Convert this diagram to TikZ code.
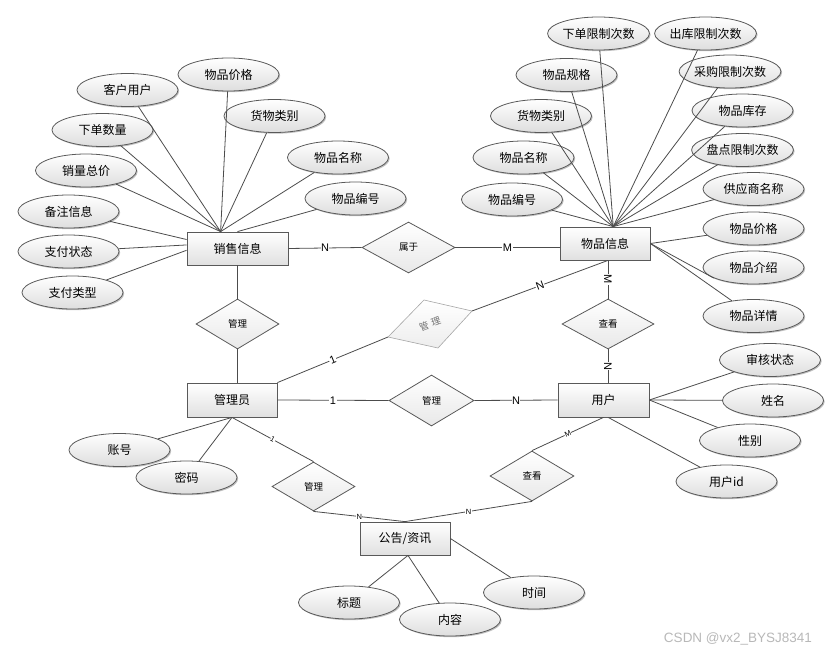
\documentclass[tikz,border=0pt]{standalone}
\usepackage{fontspec}
\setmainfont{Noto Sans CJK SC}
\setsansfont{Liberation Sans}
\usetikzlibrary{shapes.geometric}
\usetikzlibrary{shadows}

\begin{document}
\begin{tikzpicture}[x=1pt,y=-1pt,line width=0.8pt,
	box shadow/.style={drop shadow={shadow xshift=1.2pt,shadow yshift=-1.2pt,fill=black,opacity=0.25}},
	entity node/.style={rectangle,draw=black!65,top color=white,bottom color=black!12,
		minimum width=90pt,minimum height=33pt,inner sep=0pt,font=\fontsize{12}{14}\selectfont,box shadow},
	attr node/.style={ellipse,draw=black!65,top color=white,bottom color=black!13,
		minimum width=101pt,minimum height=33pt,inner sep=0pt,font=\fontsize{12}{14}\selectfont,box shadow},
	rel node/.style={diamond,draw=black!65,top color=white,bottom color=black!9,
		inner sep=0pt,font=\fontsize{9.5}{11}\selectfont},
	card/.style={font=\sffamily\fontsize{11}{12}\selectfont,fill=white,inner sep=0.5pt},
	small card/.style={font=\sffamily\fontsize{7.5}{8}\selectfont,fill=white,inner sep=0.3pt},
	link/.style={draw=black!70}]
	\useasboundingbox (0,0) rectangle (835,655);
	
	% entities
	\node[entity node,minimum width=101pt] (sale) at (237.5,248.5) {销售信息};
	\node[entity node] (goods) at (605,243.5) {物品信息};
	\node[entity node,minimum height=34pt] (admin) at (232,400) {管理员};
	\node[entity node,minimum width=91pt,minimum height=34pt] (user) at (603.5,400) {用户};
	\node[entity node] (notice) at (405,538.5) {公告/资讯};
	
	% relations
	\node[rel node,minimum width=93pt,minimum height=51pt] (belong) at (408.5,247.5) {属于};
	\node[rel node,minimum width=83pt,minimum height=50pt] (manageA) at (237.5,324) {管理};
	\node[rel node,minimum width=85pt,minimum height=51pt] (manageC) at (431.5,400.5) {管理};
	\node[rel node,minimum width=92pt,minimum height=50pt] (viewA) at (608,324) {查看};
	\node[rel node,minimum width=83pt,minimum height=49pt] (manageD) at (313.5,486.5) {管理};
	\node[rel node,minimum width=84pt,minimum height=50pt] (viewB) at (532,476) {查看};
	
	% the slanted grey one
	\coordinate (gl) at (388,337);
	\coordinate (gt) at (424,300);
	\coordinate (gr) at (472,311);
	\coordinate (gb) at (438,348);
	\path[draw=black!35,top color=white,bottom color=black!7,line width=0.6pt] (gl) -- (gt) -- (gr) -- (gb) -- cycle;
	\node[rotate=20,text=black!55,font=\fontsize{9.5}{11}\selectfont] (manageB) at (430,324) {管\hspace{3pt}理};
	
	% attributes of sale
	\node[attr node] (sa1) at (127.5,90) {客户用户};
	\node[attr node] (sa2) at (228.5,74.5) {物品价格};
	\node[attr node] (sa3) at (274.5,116) {货物类别};
	\node[attr node] (sa4) at (102.5,130) {下单数量};
	\node[attr node] (sa5) at (338,157.5) {物品名称};
	\node[attr node] (sa6) at (86,170.5) {销量总价};
	\node[attr node] (sa7) at (355.5,198.5) {物品编号};
	\node[attr node] (sa8) at (68.5,211.5) {备注信息};
	\node[attr node] (sa9) at (68.5,251.5) {支付状态};
	\node[attr node] (sa10) at (72.5,292.5) {支付类型};
	
	% attributes of goods
	\node[attr node] (ga1) at (598.5,33.5) {下单限制次数};
	\node[attr node] (ga2) at (705.5,33.5) {出库限制次数};
	\node[attr node] (ga3) at (566.5,75) {物品规格};
	\node[attr node] (ga4) at (730,71.5) {采购限制次数};
	\node[attr node] (ga5) at (541,116) {货物类别};
	\node[attr node] (ga6) at (742.5,110.5) {物品库存};
	\node[attr node] (ga7) at (523.5,157.5) {物品名称};
	\node[attr node] (ga8) at (742.5,150) {盘点限制次数};
	\node[attr node] (ga9) at (512,199.5) {物品编号};
	\node[attr node] (ga10) at (753.5,189) {供应商名称};
	\node[attr node] (ga11) at (753.5,228.5) {物品价格};
	\node[attr node] (ga12) at (753.5,267.5) {物品介绍};
	\node[attr node] (ga13) at (753.5,316) {物品详情};
	
	% attributes of user, admin, notice
	\node[attr node] (ua1) at (770,360) {审核状态};
	\node[attr node] (ua2) at (773,400.5) {姓名};
	\node[attr node] (ua3) at (750,440.5) {性别};
	\node[attr node] (ua4) at (726.5,481.5) {用户id};
	\node[attr node] (aa1) at (119.5,450) {账号};
	\node[attr node] (aa2) at (186.5,477.5) {密码};
	\node[attr node] (na1) at (349,602.5) {标题};
	\node[attr node] (na2) at (450,619.5) {内容};
	\node[attr node] (na3) at (534,592.5) {时间};
	
	% attribute links
	\path[link]
	(sa1) edge (sale.135) (sa2) edge (sale.135) (sa3) edge (sale.135)
	(sa4) edge (sale.135) (sa5) edge (sale.135) (sa6) edge (sale.135)
	(sa7) edge (sale.north) (sa8) edge (sale.170) (sa9) edge (sale.176)
	(sa10) edge (sale.182)
	(ga1) edge (goods.64) (ga2) edge (goods.64) (ga3) edge (goods.64)
	(ga4) edge (goods.64) (ga5) edge (goods.64) (ga6) edge (goods.64)
	(ga7) edge (goods.64) (ga8) edge (goods.64) (ga9) edge (goods.64)
	(ga10) edge (goods.64)
	(ga11) edge (goods.east) (ga12.195) edge (goods.east) (ga13) edge (goods.east)
	(ua1) edge (user.east) (ua2) edge (user.east) (ua3) edge (user.east)
	(ua4) edge (user.285)
	(aa1) edge (admin.south) (aa2) edge (admin.south)
	(na1) edge (notice.-80) (na2) edge (notice.-80) (na3) edge (notice.east);
	
	% relation links
	\path[link]
	(sale.east) edge node[card] {N} (belong.west)
	(belong.east) edge node[card] {M} (belong.east -| goods.west)
	(sale) edge (manageA)
	(manageA.south) edge (manageA.south |- admin.north)
	(admin.north east) edge node[card,sloped] {1} (gl)
	(gr) edge node[card,sloped] {N} (viewA.north |- goods.south)
	(viewA.north |- goods.south) edge node[card,sloped] {M} (viewA.north)
	(viewA.south) edge node[card,sloped] {N} (viewA.south |- user.north)
	(admin.east) edge node[card] {1} (manageC.west)
	(manageC.east) edge node[card] {N} (user.west)
	(admin.south) edge node[small card,sloped] {1} (manageD.north)
	(manageD.south) edge node[small card] {N} (notice.north)
	(user.south) edge node[small card,sloped] {M} (viewB.north)
	(viewB.south) edge node[small card] {N} (notice.north);
	
	\node[text=black!28,font=\sffamily\fontsize{13.5}{15}\selectfont] (mark) at (738,639) {CSDN @vx2\_BYSJ8341};
\end{tikzpicture}
\end{document}
